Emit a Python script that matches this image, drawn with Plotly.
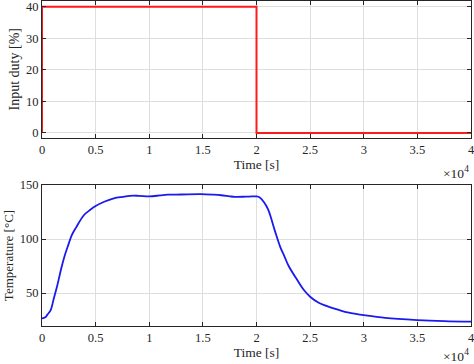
import plotly.graph_objects as go

# Data
duty_t = [0, 0, 20000, 20000, 40000]
duty_v = [0, 40, 40, 0, 0]

temp_t = [0, 300, 500, 800, 1100, 1400, 1800, 2100, 2400, 2800, 3200, 3900, 4500, 5000, 5800, 6700,
          7500, 8200, 9000, 10000, 11000, 11700, 13000, 14800, 16000, 16700, 17500, 18000, 19000, 19600,
          20000, 20300, 20700, 21100, 21700, 22200, 22600, 23000, 23800, 24400, 25000, 25800, 27200,
          28500, 30000, 32000, 35000, 37500, 40000]
temp_v = [26.5, 27.5, 30, 34, 45, 56, 73, 84, 93, 104, 111, 122, 127, 130.5, 134.5, 137.6,
          139, 140, 140, 139.5, 140.3, 141, 141.2, 141.5, 141, 140.5, 139.5, 139, 139.2, 139.4,
          139.4, 138.5, 134, 127, 108, 93, 84, 75, 62, 53, 46.6, 41, 35.8,
          32, 29.6, 27, 25, 24, 23.5]

xticks = [0, 5000, 10000, 15000, 20000, 25000, 30000, 35000, 40000]
xticklabels = ["0", "0.5", "1", "1.5", "2", "2.5", "3", "3.5", "4"]
duty_ticks = [0, 10, 20, 30, 40]
temp_ticks = [50, 100, 150]

fam = "Liberation Serif, Times New Roman, serif"
tickfont = dict(family=fam, size=12.5, color="#262626")
xtitlefont = dict(family=fam, size=13.5, color="#262626")
ytitlefont = dict(family=fam, size=14, color="#262626")
ytitlefont2 = dict(family=fam, size=13, color="#262626")
axcol = "#262626"
gridcol = "#dedede"

fig = go.Figure()
fig.add_trace(go.Scatter(x=duty_t, y=duty_v, mode="lines",
                         line=dict(color="#ff1a1a", width=2), xaxis="x", yaxis="y"))
fig.add_trace(go.Scatter(x=temp_t, y=temp_v, mode="lines", line_shape="spline",
                         line=dict(color="#1a1aee", width=1.8), xaxis="x2", yaxis="y2"))

common_x = dict(range=[0, 40000], tickvals=xticks, ticktext=xticklabels,
                showgrid=True, gridcolor=gridcol, gridwidth=1,
                showline=True, linecolor=axcol, linewidth=1, mirror="ticks",
                ticks="inside", ticklen=4, tickcolor=axcol, zeroline=False,
                ticklabeloverflow="allow",
                tickfont=tickfont, title=dict(text="Time [s]", font=xtitlefont, standoff=2))
common_y = dict(showgrid=True, gridcolor=gridcol, gridwidth=1,
                showline=True, linecolor=axcol, linewidth=1, mirror="ticks",
                ticks="inside", ticklen=4, tickcolor=axcol, zeroline=False,
                tickfont=tickfont)

fig.update_layout(
    width=474, height=364,
    margin=dict(l=42, r=3, t=0, b=0, autoexpand=False),
    paper_bgcolor="white", plot_bgcolor="white",
    showlegend=False,
    font=tickfont,
    xaxis=dict(domain=[0, 1], anchor="y", **common_x),
    yaxis=dict(domain=[0.6209, 0.9986], anchor="x", range=[-1.6, 42], tickvals=duty_ticks,
               title=dict(text="Input duty [%]", font=ytitlefont, standoff=3), **common_y),
    xaxis2=dict(domain=[0, 1], anchor="y2", **common_x),
    yaxis2=dict(domain=[0.1044, 0.4918], anchor="x2", range=[19.5, 150], tickvals=temp_ticks,
                title=dict(text="Temperature [°C]", font=ytitlefont2, standoff=3), **common_y),
)

fig.add_annotation(x=1, xref="paper", y=1 - 172 / 364, yref="paper", text="×10<sup>4</sup>",
                   showarrow=False, xanchor="right", yanchor="middle", font=xtitlefont)
fig.add_annotation(x=1, xref="paper", y=1 - 355 / 364, yref="paper", text="×10<sup>4</sup>",
                   showarrow=False, xanchor="right", yanchor="middle", font=xtitlefont)

fig.write_html("out.html", config={"displayModeBar": False},
               post_script="document.body.style.margin='0';document.body.style.overflow='hidden';")
